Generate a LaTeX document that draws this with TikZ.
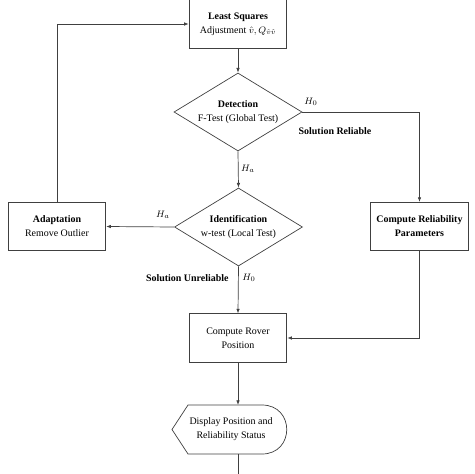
\documentclass[tikz,border=0pt]{standalone}
\usepackage{fontspec}
\setmainfont{Liberation Serif}
\usepackage{tikz}
\usetikzlibrary{shapes.geometric, positioning, calc, arrows.meta}

\tikzset{
    stepbox/.style={draw=black!75, line width=0.6pt, rectangle, align=center,
        minimum width=2.93cm, minimum height=1.45cm, inner sep=1pt},
    testdiamond/.style={draw=black!75, line width=0.6pt, diamond,
        minimum width=3.84cm, minimum height=2.34cm, inner sep=0pt},
    flow/.style={draw=black!75, line width=0.6pt, -{Latex[length=4pt,width=3pt]}},
    wire/.style={draw=black!75, line width=0.6pt},
    lbl/.style={font=\fontsize{8.5}{12}\selectfont, inner sep=1pt}
}

\begin{document}
\begin{tikzpicture}[x=0.03cm, y=-0.03cm, font=\fontsize{8.5}{12}\selectfont]

        \useasboundingbox (0,0) rectangle (474,474);

        % ==========================================
        % Adjustment and tests (middle column)
        % ==========================================
        \node[stepbox] (lsq) at (238,24)
            {\textbf{Least Squares}\\Adjustment $\hat{v},Q_{\hat{v}\hat{v}}$};
        \node[testdiamond] (detect) at (238,112) {};
        \node[align=center] (detecttxt) at (detect.center)
            {\textbf{Detection}\\F-Test (Global Test)};
        \node[testdiamond] (ident) at (238.5,227) {};
        \node[align=center] (identtxt) at (ident.center)
            {\textbf{Identification}\\w-test (Local Test)};
        \node[stepbox] (rover) at (238,338)
            {Compute Rover\\Position};

        % ==========================================
        % Side boxes
        % ==========================================
        \node[stepbox] (adapt) at (57,226.5)
            {\textbf{Adaptation}\\Remove Outlier};
        \node[stepbox] (relia) at (419.5,226.5)
            {\textbf{Compute Reliability}\\\textbf{Parameters}};

        % ==========================================
        % Display (output shape)
        % ==========================================
        \coordinate (disptop) at (238,405);
        \coordinate (dispbot) at (238,454);
        \draw[wire] (172,429.5) -- (188,405) -- (262,405)
            .. controls (295,405) and (295,454) .. (262,454) -- (188,454) -- cycle;
        \node[align=center] (disp) at (231,429.5)
            {Display Position and\\Reliability Status};
        \coordinate (endline) at (238,476);

        % ==========================================
        % Connectors
        % ==========================================
        \draw[flow] (lsq.south) -- (detect.north);
        \draw[flow] (detect.east) -| (relia.north);
        \draw[flow] (detect.south) -- (ident.north);
        \draw[flow] (ident.west) -- (adapt.east);
        \draw[flow] (adapt.north) |- (lsq.west);
        \draw[flow] (ident.south) -- (rover.north);
        \draw[flow] (relia.south) |- (rover.east);
        \draw[flow] (rover.south) -- (disptop);
        \draw[wire] (dispbot) -- (endline);

        % Labels
        \node[lbl] (h0det) at (311,102) {$H_0$};
        \node[lbl] (okdet) at (335,131) {\textbf{Solution Reliable}};
        \node[lbl] (hadet) at (248,169) {$H_a$};
        \node[lbl] (haide) at (163,215) {$H_a$};
        \node[lbl, anchor=east] (nokide) at (230,278) {\textbf{Solution Unreliable}};
        \node[lbl] (h0ide) at (249,278) {$H_0$};

\end{tikzpicture}
\end{document}
